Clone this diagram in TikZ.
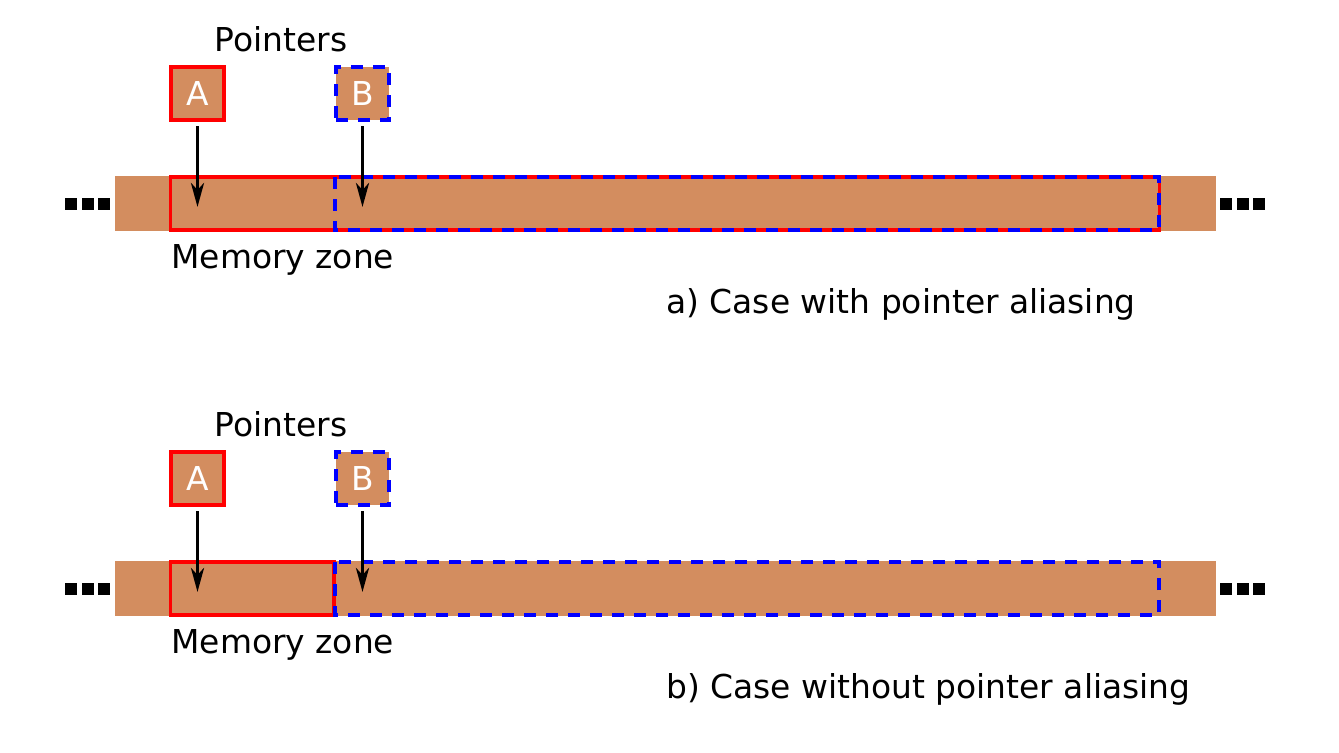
\documentclass[tikz,border=0pt]{standalone}
\usepackage{fontspec}
\setmainfont{DejaVu Sans}
\usetikzlibrary{arrows.meta, positioning}
\definecolor{mem}{HTML}{D38D5F}

\begin{document}
\begin{tikzpicture}[x=0.5pt, y=-0.5pt,
  every node/.style={inner sep=0pt, font=\fontsize{16.45}{20}\selectfont},
  strip/.style={fill=mem, minimum width=550.5pt, minimum height=27.5pt},
  ptr/.style={fill=mem, text=white, line width=2pt,
              minimum width=26.5pt, minimum height=26.5pt},
  redzone/.style={draw=red, line width=1.75pt},
  bluezone/.style={draw=blue, line width=2pt, dash pattern=on 6pt off 5pt},
  dot/.style={fill=black, minimum size=6pt},
  arrow/.style={-{Stealth[length=12pt, width=6.5pt, inset=3.5pt]},
                line width=1.8pt, shorten <=2pt}]
\useasboundingbox (0,0) rectangle (1339,752);

% a) with aliasing
\node[strip] (stripa) at (665.5,203.5) {};
\draw[redzone] (170.5,177) rectangle (1159.5,230);
\draw[bluezone] (335,177) rectangle (1159,230);
\foreach \x in {71,87.5,104,1226,1243,1259}
  \node[dot] at (\x,204) {};
\node (ptrsa) at (281,39) {Pointers};
\node[ptr, draw=red] (ptrAa) at (197.5,93.5) {A};
\node[ptr, draw=blue, dash pattern=on 6pt off 5pt] (ptrBa) at (362.5,93.5) {B};
\coordinate (tipAa) at (197.5,207);
\coordinate (tipBa) at (362.5,207);
\draw[arrow] (ptrAa) -- (tipAa);
\draw[arrow] (ptrBa) -- (tipBa);
\node[anchor=west] (zonea) at (171,260) {Memory zone};
\node[anchor=west] (capa) at (666,304) {a) Case with pointer aliasing};

% b) without aliasing
\begin{scope}[shift={(0,385)}]
\node[strip] (stripb) at (665.5,203.5) {};
\draw[redzone] (170.5,177) rectangle (334,230);
\draw[bluezone] (335,177) rectangle (1159,230);
\foreach \x in {71,87.5,104,1226,1243,1259}
  \node[dot] at (\x,204) {};
\node (ptrsb) at (281,39) {Pointers};
\node[ptr, draw=red] (ptrAb) at (197.5,93.5) {A};
\node[ptr, draw=blue, dash pattern=on 6pt off 5pt] (ptrBb) at (362.5,93.5) {B};
\coordinate (tipAb) at (197.5,207);
\coordinate (tipBb) at (362.5,207);
\draw[arrow] (ptrAb) -- (tipAb);
\draw[arrow] (ptrBb) -- (tipBb);
\node[anchor=west] (zoneb) at (171,260) {Memory zone};
\node[anchor=west] (capb) at (666,304) {b) Case without pointer aliasing};
\end{scope}
\end{tikzpicture}
\end{document}
